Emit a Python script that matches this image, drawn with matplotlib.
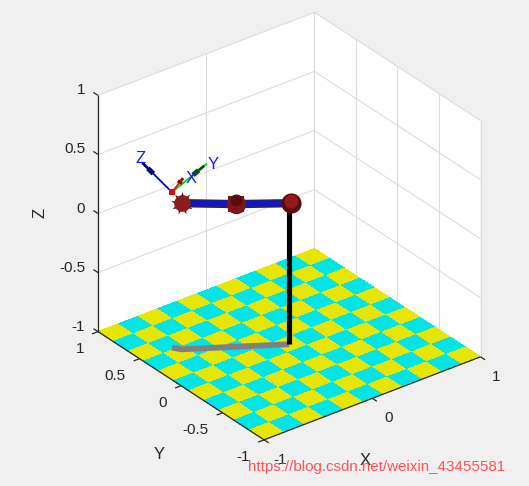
import numpy as np
import matplotlib
matplotlib.use("Agg")
import matplotlib.pyplot as plt
from mpl_toolkits.mplot3d import proj3d
from mpl_toolkits.mplot3d.art3d import Poly3DCollection

plt.rcParams['font.family'] = ['Liberation Sans', 'DejaVu Sans']

# ---- data ----
x_ticks = [-1, 0, 1]
y_ticks = [-1, -0.5, 0, 0.5, 1]
z_ticks = [-1, -0.5, 0, 0.5, 1]
x_tick_labels = ['-1', '0', '1']
y_tick_labels = ['-1', '-0.5', '0', '0.5', '1']
z_tick_labels = ['-1', '-0.5', '0', '0.5', '1']
n_tiles = 11
tile_colors = ['#e6e600', '#00e6e6']

# robot joints: shoulder, elbow, wrist, tool point
joint_x = [0.01, -0.33, -0.67, -0.713]
joint_y = [-0.01, 0.21, 0.42, 0.483]
joint_z = [0.195, 0.206, 0.237, 0.316]
pedestal_x = [0, 0]
pedestal_y = [0, 0]
pedestal_z = [-1, 0.195]
shadow_x = [0, -0.67, -0.713]
shadow_y = [0, 0.42, 0.483]

# tool frame: end point of each axis
frame_origin = (-0.713, 0.483, 0.316)
frame_z = (-0.913, 0.585, 0.593)
frame_y = (-0.513, 0.321, 0.564)
frame_x = (-0.613, 0.48, 0.401)

W, H = 529, 486
fig = plt.figure(figsize=(W / 100, H / 100), dpi=100, facecolor='#f0f0f0')
ax = fig.add_axes([0, 0, 1, 1], projection='3d', computed_zorder=False)
ax.set_proj_type('ortho')
ax.view_init(elev=30, azim=-127.5)
ax.set_box_aspect((1, 1, 1))
ax.set_xlim(-1, 1); ax.set_ylim(-1, 1); ax.set_zlim(-1, 1)
ax.set_axis_off()
ax.patch.set_alpha(0)


def to_px(x, y, z):
    ax.apply_aspect()
    M = ax.get_proj()
    sx, sy, _ = proj3d.proj_transform(x, y, z, M)
    return ax.transData.transform((sx, sy))


# fit the cube so that its floor corners land where the reference has them
side, cx, cy = 420.0, W / 2, H / 2
for _ in range(4):
    ax.set_position([(cx - side / 2) / W, (cy - side / 2) / H, side / W, side / H])
    left = to_px(-1, 1, -1)
    right = to_px(1, -1, -1)
    top = to_px(-1, 1, 1)
    side *= (480.5 - 98.0) / (right[0] - left[0])
    ax.set_position([(cx - side / 2) / W, (cy - side / 2) / H, side / W, side / H])
    left = to_px(-1, 1, -1)
    top = to_px(-1, 1, 1)
    cx += 98.0 - left[0]
    cy += (H - 213.5) - (left[1] + top[1]) / 2
ax.set_position([(cx - side / 2) / W, (cy - side / 2) / H, side / W, side / H])
ax.apply_aspect()
M = ax.get_proj()
ax.M = M


def poly(verts, color, z, aa=True):
    p = Poly3DCollection(verts, facecolors=color, edgecolors='none', linewidths=0,
                         antialiaseds=aa, zorder=z)
    ax.add_collection3d(p, autolim=False)
    return p


def line(xs, ys, zs, color, lw, z, cap='butt', **kw):
    l, = ax.plot(xs, ys, zs, color=color, lw=lw, zorder=z, clip_on=False,
                 solid_capstyle=cap, **kw)
    return l


# back walls
poly([[(-1, 1, -1), (1, 1, -1), (1, 1, 1), (-1, 1, 1)]], 'white', 1)
poly([[(1, 1, -1), (1, -1, -1), (1, -1, 1), (1, 1, 1)]], 'white', 1)

# grid
GRID = '#dcdcdc'
GLW = 0.8
for zv in z_ticks:
    line([-1, 1, 1], [1, 1, -1], [zv, zv, zv], GRID, GLW, 2)
for xv in x_ticks:
    line([xv, xv], [1, 1], [-1, 1], GRID, GLW, 2)
for yv in y_ticks:
    line([1, 1], [yv, yv], [-1, 1], GRID, GLW, 2)

# checkered floor
edges = np.linspace(-1, 1, n_tiles + 1)
verts, cols = [], []
for i in range(n_tiles):
    for j in range(n_tiles):
        verts.append([(edges[i], edges[j], -1), (edges[i + 1], edges[j], -1),
                      (edges[i + 1], edges[j + 1], -1), (edges[i], edges[j + 1], -1)])
        cols.append(tile_colors[(i + j) % 2])
poly(verts, cols, 3, aa=False)

# axis lines and ticks
DARK = '#262626'
ALW = 0.9
line([-1, 1], [-1, -1], [-1, -1], DARK, ALW, 4)
line([-1, -1], [-1, 1], [-1, -1], DARK, ALW, 4)
line([-1, -1], [1, 1], [-1, 1], DARK, ALW, 4)
TK = 0.055
for xv in x_ticks:
    line([xv, xv], [-1, -1 - TK], [-1, -1], DARK, ALW, 4)
for yv in y_ticks:
    line([-1, -1 - TK], [yv, yv], [-1, -1], DARK, ALW, 4)
for zv in z_ticks:
    line([-1, -1], [1, 1 + TK], [zv, zv], DARK, ALW, 4)

# shadow and pedestal
line(shadow_x, shadow_y, [-1] * len(shadow_x), '#808080', 4.2, 5, solid_joinstyle='round')
line(pedestal_x, pedestal_y, pedestal_z, 'black', 3.7, 6)

# links
line(joint_x[:3], joint_y[:3], joint_z[:3], '#20207a', 6.0, 7)
line(joint_x[:3], joint_y[:3], joint_z[:3], '#1414cc', 3.2, 8)

# tool frame
def frame_axis(end, color, head, head_from=0.55, head_to=0.9, z=9, w=3.6):
    o = np.array(frame_origin); e = np.array(end)
    line(*zip(o, e), color, 1.3, z)
    a = o + head_from * (e - o)
    b = o + (head_from + head_to) / 2 * (e - o)
    c = o + head_to * (e - o)
    line(*zip(a, b), head, w, z + 0.1)
    line(*zip(b, c), head, w * 0.55, z + 0.1)


frame_axis(frame_z, '#0000ff', '#0a0a70', head_from=0.62, head_to=0.98)
frame_axis(frame_y, '#00e000', '#0a500a', head_from=0.6, head_to=0.92)
frame_axis(frame_x, '#ff0000', '#7a1010', head_from=0.62, head_to=1.0)

# joints
def joint(i, marker, color, ms, z, dy=0.0):
    ax.plot([joint_x[i]], [joint_y[i]], [joint_z[i] + dy], marker=marker, color=color,
            ms=ms, mew=0, ls='none', zorder=z, clip_on=False)


RED = '#7d1616'
DRED = '#5a0c0c'
LRED = '#931a1a'
joint(3, 's', '#d01010', 4.0, 10)
joint(0, 'o', DRED, 14.5, 11)
joint(0, 'o', LRED, 10.0, 12, dy=0.02)
joint(1, 's', RED, 12.0, 11)
joint(1, 'o', RED, 14.0, 11)
joint(1, 'o', DRED, 8.5, 12, dy=0.035)
joint(2, (9, 1, 0), DRED, 16.5, 11)
joint(2, 'o', '#8a1c1c', 12.0, 12)


# text anchored to data points through their projection
def label(x, y, z, s, dx, dy, ha='center', va='center', color='#262626', size=11, rot=0):
    sx, sy, _ = proj3d.proj_transform(x, y, z, M)
    ax.annotate(s, xy=(sx, sy), xycoords='data', xytext=(dx, -dy), textcoords='offset pixels',
                ha=ha, va=va, color=color, fontsize=size, rotation=rot,
                annotation_clip=False, zorder=20)


for xv, s in zip(x_ticks, x_tick_labels):
    label(xv, -1, -1, s, 16, 20)
for yv, s in zip(y_ticks, y_tick_labels):
    label(-1, yv, -1, s, -14, 17, ha='right')
for zv, s in zip(z_ticks, z_tick_labels):
    label(-1, 1, zv, s, -13, -5, ha='right')

label(0, -1, -1, 'X', -7, 62 - 0, size=12)
label(-1, 0, -1, 'Y', -22, 69, size=12)
label(-1, 1, 0, 'Z', -58, -1, size=12, rot=90)

label(*frame_z, 'Z', -1, -4, color='#1a1aff', size=12)
label(*frame_y, 'Y', 6, 1, color='#1a1aff', size=12)
label(*frame_x, 'X', 8, 0, color='#1a1aff', size=12)

fig.text(248 / W, 1 - 467 / H, 'https://blog.csdn.net/weixin_43455581', color='#ff5555',
         fontsize=10.9, ha='left', va='center', zorder=30)

fig.savefig('out.png', dpi=100, facecolor=fig.get_facecolor())
